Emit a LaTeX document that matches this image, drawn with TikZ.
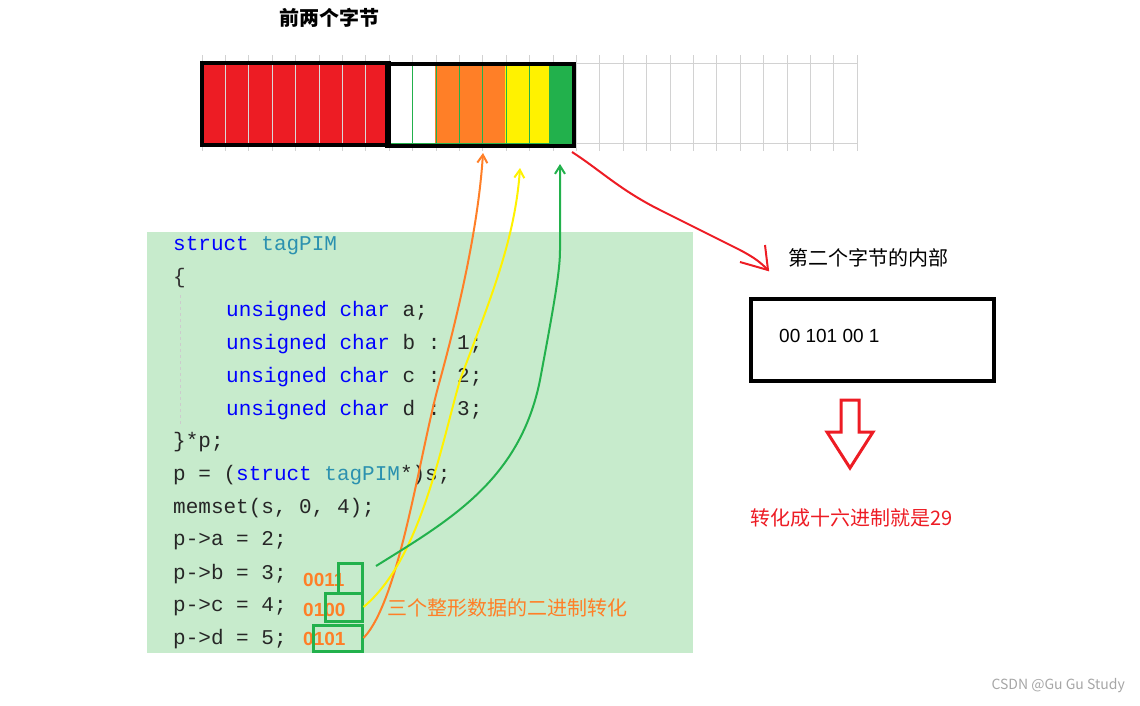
\documentclass[tikz,border=0pt]{standalone}
\usepackage{fontspec}
\setmainfont{Liberation Sans}
\newfontfamily\cjk{Noto Sans CJK SC}
\newfontfamily\codef{Liberation Mono}
\usetikzlibrary{arrows.meta}
\definecolor{kw}{HTML}{0000FF}
\definecolor{ty}{HTML}{2B91AF}
\definecolor{bg}{HTML}{C7EBCC}
\definecolor{rd}{HTML}{ED1C24}
\definecolor{og}{HTML}{FF7F27}
\definecolor{yl}{HTML}{FFF200}
\definecolor{gn}{HTML}{22B14C}
\tikzset{code/.style={anchor=west,inner sep=0,font=\codef\fontsize{21}{21}\selectfont},
 bin/.style={anchor=west,inner sep=0,text=og,font=\bfseries\fontsize{19}{19}\selectfont},
 gbox/.style={draw=gn,line width=3pt},
 curve/.style={line width=2pt,-{Straight Barb[length=8pt,width=10pt]}}}
\begin{document}
\begin{tikzpicture}[x=1pt,y=-1pt]
\useasboundingbox (0,0) rectangle (1140,705);
% grid
\foreach \i in {0,...,28} \draw[gray!35,line width=1pt] (202+\i*23.4,55)--(202+\i*23.4,151);
\draw[gray!35,line width=1pt] (202,63)--(858,63) (202,143)--(858,143);
\fill[rd] (202,63) rectangle (389,143);
\fill[og] (435,63) rectangle (505,143);
\fill[yl] (505,63) rectangle (549,143);
\fill[gn] (549,63) rectangle (573,143);
\foreach \i in {1,...,7} \draw[gray!30,line width=1pt] (202+\i*23.4,63)--(202+\i*23.4,143);
\foreach \i in {9,...,15} \draw[gn,line width=0.8pt] (202+\i*23.4,66)--(202+\i*23.4,143);
\draw[gn,line width=0.8pt] (389,143)--(573,143);
\node[draw,line width=4pt,minimum width=187pt,minimum height=82pt,inner sep=0] (b1) at (295.5,104) {};
\node[draw,line width=4pt,minimum width=187pt,minimum height=82pt,inner sep=0] (b2) at (480.5,105) {};
\node[font=\cjk\bfseries\fontsize{20}{20}\selectfont] (title) at (329,18) {前两个字节};
% code bg
\fill[bg] (147,232) rectangle (693,653);
\draw[gray!40,dashed,line width=1pt] (180,295)--(180,425);
\node[code,text=kw] (l1) at (173,246) {struct \textcolor{ty}{tagPIM}};
\node[code,text=black!80] (l2) at (173,278) {\{};
\node[code,text=kw] (l3) at (226,311) {unsigned char \textcolor{black!85}{a;}};
\node[code,text=kw] (l4) at (226,344) {unsigned char \textcolor{black!85}{b : 1;}};
\node[code,text=kw] (l5) at (226,377) {unsigned char \textcolor{black!85}{c : 2;}};
\node[code,text=kw] (l6) at (226,410) {unsigned char \textcolor{black!85}{d : 3;}};
\node[code,text=black!85] (l7) at (173,442) {\}*p;};
\node[code,text=black!85] (l8) at (173,475) {p = (\textcolor{kw}{struct} \textcolor{ty}{tagPIM}*)s;};
\node[code,text=black!85] (l9) at (173,508) {memset(s, 0, 4);};
\node[code,text=black!85] (l10) at (173,541) {p->a = 2;};
\node[code,text=black!85] (l11) at (173,574) {p->b = 3;};
\node[code,text=black!85] (l12) at (173,607) {p->c = 4;};
\node[code,text=black!85] (l13) at (173,639) {p->d = 5;};
\node[bin] (n1) at (303,580) {0011};
\node[bin] (n2) at (303,610) {0100};
\node[bin] (n3) at (303,639) {0101};
\node[gbox,minimum width=24pt,minimum height=30pt,inner sep=0] (g1) at (350,578) {};
\node[gbox,minimum width=37pt,minimum height=28pt,inner sep=0] (g2) at (343.5,607) {};
\node[gbox,minimum width=49pt,minimum height=26pt,inner sep=0] (g3) at (337.5,638) {};
\node[anchor=west,inner sep=0,text=og,font=\cjk\fontsize{20}{20}\selectfont] (lab) at (387,608) {三个整形数据的二进制转化};
% curves
\coordinate (oe) at (483,153);
\coordinate (ye) at (520,168);
\coordinate (ge) at (560,164);
\draw[curve,og] (g3.east) .. controls (400,600) and (420,450) .. (440,380) .. controls (470,270) and (480,200) .. (oe);
\draw[curve,yl] (g2.east) .. controls (420,560) and (440,450) .. (460,380) .. controls (490,300) and (515,240) .. (ye);
\draw[curve,gn] (376,566) .. controls (450,520) and (520,480) .. (540,380) .. controls (555,300) and (560,270) .. (560,250) -- (ge);
\draw[rd,line width=2pt] (572,152) .. controls (600,170) and (620,190) .. (660,210) .. controls (700,230) and (720,240) .. (740,250) .. controls (755,258) and (760,262) .. (768,270);
\draw[rd,line width=2pt] (740,262)--(768,270)--(765,245);
\node[anchor=west,inner sep=0,font=\cjk\fontsize{20}{20}\selectfont] (l2t) at (788,258) {第二个字节的内部};
\node[draw,line width=4pt,minimum width=243pt,minimum height=82pt,inner sep=0] (box) at (872.5,340) {};
\node[anchor=west,inner sep=0,font=\fontsize{19}{19}\selectfont] (bits) at (779,336) {00 101 00 1};
\draw[rd,line width=3pt,line join=miter] (841,400)--(859,400)--(859,432)--(873,432)--(850,468)--(827,432)--(841,432)--cycle;
\node[anchor=west,inner sep=0,text=rd,font=\cjk\fontsize{20}{20}\selectfont] (hex) at (750,518) {转化成十六进制就是29};
\node[anchor=east,inner sep=0,text=gray!70,font=\cjk\fontsize{14}{14}\selectfont] (wm) at (1125,686) {CSDN @Gu Gu Study};
\end{tikzpicture}
\end{document}
